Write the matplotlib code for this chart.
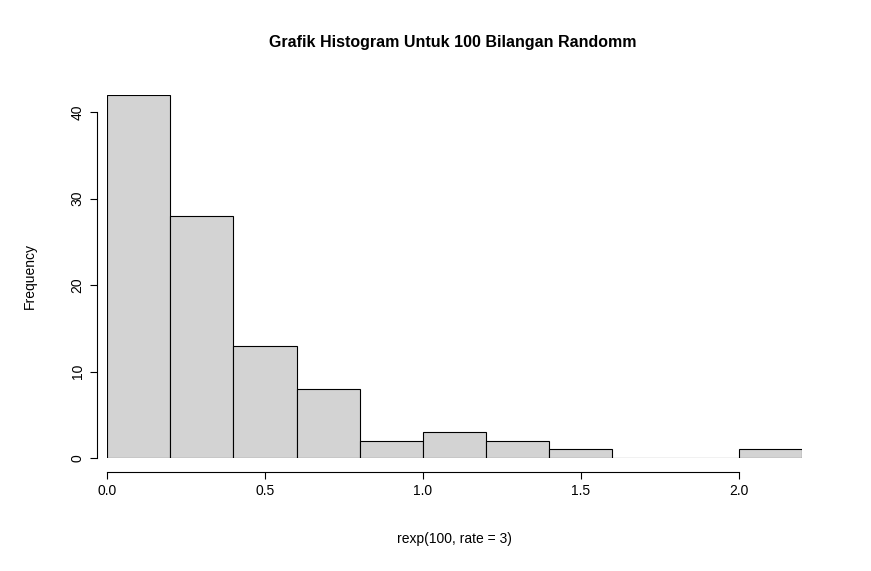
import matplotlib
matplotlib.use("Agg")
import matplotlib.pyplot as plt

bin_edges = [0.0, 0.2, 0.4, 0.6, 0.8, 1.0, 1.2, 1.4, 1.6, 1.8, 2.0, 2.2]
counts = [42, 28, 13, 8, 2, 3, 2, 1, 0, 0, 1]
xticks = [0.0, 0.5, 1.0, 1.5, 2.0]
xtick_labels = ["0.0", "0.5", "1.0", "1.5", "2.0"]
yticks = [0, 10, 20, 30, 40]

plt.rcParams['font.family'] = ['Liberation Sans', 'DejaVu Sans']
fig = plt.figure(figsize=(8.71, 5.71), dpi=100)
ax = fig.add_axes([107/871, 1-458/571, (802-107)/871, (458-94.7)/571])
ax.bar(bin_edges[:-1], counts, width=0.2, align='edge', color='#d3d3d3', edgecolor='black', linewidth=0.8)
ax.set_xlim(0, 2.2)
ax.set_ylim(0, 42)
for s in ['top', 'right']:
    ax.spines[s].set_visible(False)
ax.spines['bottom'].set_position(('outward', 10))
ax.spines['left'].set_position(('outward', 7.2))
ax.spines['bottom'].set_bounds(0, 2.0)
ax.spines['left'].set_bounds(0, 40)
ax.set_xticks(xticks)
ax.set_xticklabels(xtick_labels)
ax.set_yticks(yticks)
ax.set_yticklabels([str(v) for v in yticks], rotation=90, va='center')
ax.tick_params(length=5, labelsize=10, pad=4)
ax.set_xlabel("rexp(100, rate = 3)", fontsize=10, labelpad=24)
ax.set_ylabel("Frequency", fontsize=10, labelpad=24)
fig.text(453/871, 1-42/571, "Grafik Histogram Untuk 100 Bilangan Randomm", ha='center', va='center', fontsize=11.5, fontweight='bold')
fig.savefig("out.png", dpi=100)
